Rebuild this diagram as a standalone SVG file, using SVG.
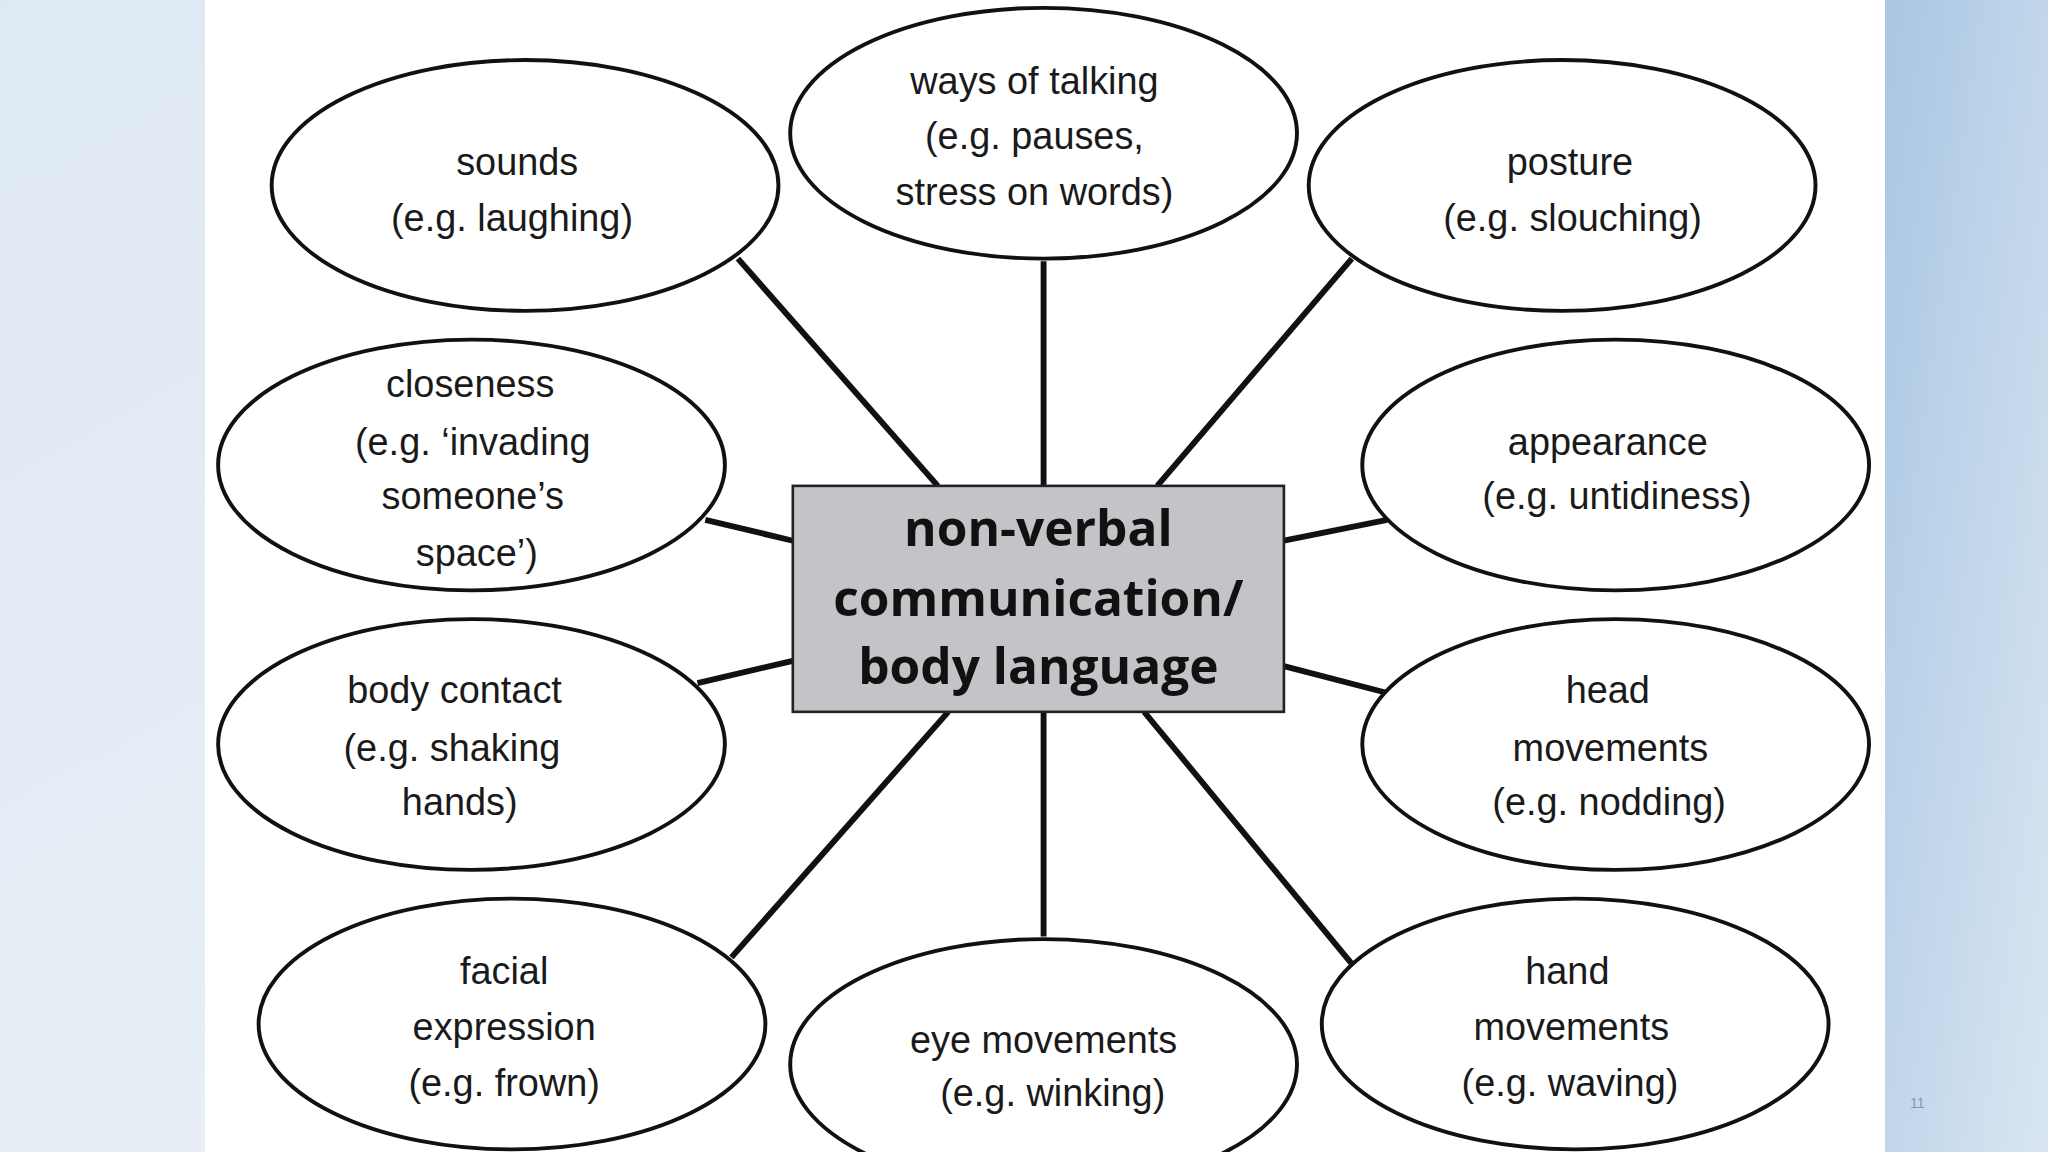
<svg xmlns="http://www.w3.org/2000/svg" width="2048" height="1152" viewBox="0 0 2048 1152">
<defs>
<linearGradient id="lg" x1="0" y1="0" x2="1" y2="1"><stop offset="0" stop-color="#dfe9f3"/><stop offset="1" stop-color="#eef3f9"/></linearGradient>
<linearGradient id="rg" x1="0" y1="0" x2="1" y2="1"><stop offset="0" stop-color="#a9c6e3"/><stop offset="1" stop-color="#d9e6f2"/></linearGradient>
<style>
.e{fill:#fff;stroke:#111;stroke-width:3}
.t{font-family:"Liberation Sans",Arial,sans-serif;font-size:29px;fill:#1a1a1a;text-anchor:middle}
.c line{stroke:#111;stroke-width:4.5}
.b{font-family:"Open Sans","Liberation Sans",sans-serif;font-weight:bold;font-size:38px;fill:#111;text-anchor:middle}
</style>
</defs>
<rect width="2048" height="1152" fill="url(#lg)"/>
<rect x="1885" width="163" height="1152" fill="url(#rg)"/>
<rect x="205" width="1680" height="1152" fill="#fff"/>
<g transform="scale(1.30612)">
<g class="c" id="connectors">
<line x1="565" y1="198" x2="718" y2="372"/>
<line x1="799" y1="200" x2="799" y2="372"/>
<line x1="1035" y1="198" x2="886" y2="372"/>
<line x1="540" y1="398" x2="607" y2="414"/>
<line x1="983" y1="414" x2="1062" y2="398"/>
<line x1="534" y1="523" x2="607" y2="506"/>
<line x1="983" y1="510" x2="1060" y2="530"/>
<line x1="560" y1="733" x2="726" y2="545"/>
<line x1="799" y1="545" x2="799" y2="717"/>
<line x1="876" y1="545" x2="1035" y2="738"/>
</g>
<g id="center"><rect x="607" y="372" width="376" height="173" fill="#c3c4c8" stroke="#222" stroke-width="2"/>
<text class="b" x="795" y="418">non-verbal</text><text class="b" x="795" y="472">communication/</text><text class="b" x="795" y="524">body language</text></g>
<g id="sounds"><ellipse class="e" cx="402" cy="142" rx="194" ry="96"/><text class="t" x="396" y="134">sounds</text><text class="t" x="392" y="177">(e.g. laughing)</text></g>
<g id="talking"><ellipse class="e" cx="799" cy="102" rx="194" ry="96"/><text class="t" x="792" y="72">ways of talking</text><text class="t" x="792" y="114">(e.g. pauses,</text><text class="t" x="792" y="157">stress on words)</text></g>
<g id="posture"><ellipse class="e" cx="1196" cy="142" rx="194" ry="96"/><text class="t" x="1202" y="134">posture</text><text class="t" x="1204" y="177">(e.g. slouching)</text></g>
<g id="closeness"><ellipse class="e" cx="361" cy="356" rx="194" ry="96"/><text class="t" x="360" y="304">closeness</text><text class="t" x="362" y="348">(e.g. ‘invading</text><text class="t" x="362" y="390">someone’s</text><text class="t" x="365" y="433">space’)</text></g>
<g id="appearance"><ellipse class="e" cx="1237" cy="356" rx="194" ry="96"/><text class="t" x="1231" y="348">appearance</text><text class="t" x="1238" y="390">(e.g. untidiness)</text></g>
<g id="contact"><ellipse class="e" cx="361" cy="570" rx="194" ry="96"/><text class="t" x="348" y="538">body contact</text><text class="t" x="346" y="583">(e.g. shaking</text><text class="t" x="352" y="624">hands)</text></g>
<g id="head"><ellipse class="e" cx="1237" cy="570" rx="194" ry="96"/><text class="t" x="1231" y="538">head</text><text class="t" x="1233" y="583">movements</text><text class="t" x="1232" y="624">(e.g. nodding)</text></g>
<g id="facial"><ellipse class="e" cx="392" cy="784" rx="194" ry="96"/><text class="t" x="386" y="753">facial</text><text class="t" x="386" y="796">expression</text><text class="t" x="386" y="839">(e.g. frown)</text></g>
<g id="eye"><ellipse class="e" cx="799" cy="815" rx="194" ry="96"/><text class="t" x="799" y="806">eye movements</text><text class="t" x="806" y="847">(e.g. winking)</text></g>
<g id="hand"><ellipse class="e" cx="1206" cy="784" rx="194" ry="96"/><text class="t" x="1200" y="753">hand</text><text class="t" x="1203" y="796">movements</text><text class="t" x="1202" y="839">(e.g. waving)</text></g>
<text x="1468" y="848" font-family="Liberation Sans,sans-serif" font-size="11" fill="#8a96a8" text-anchor="middle">11</text>
</g>
</svg>
